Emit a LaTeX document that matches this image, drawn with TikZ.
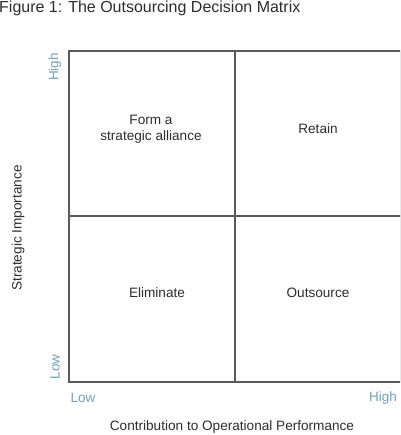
\documentclass[tikz,border=0pt]{standalone}
\usepackage{fontspec}
\setmainfont{Liberation Sans}
\definecolor{txt}{RGB}{45,45,45}
\definecolor{axis}{RGB}{115,160,190}
\definecolor{grid}{RGB}{90,90,90}
\begin{document}
\begin{tikzpicture}[x=1pt,y=-1pt,
  lbl/.style={text=txt,font=\fontsize{13.6}{16}\selectfont,align=center,inner sep=0pt},
  axl/.style={text=axis,font=\fontsize{13.5}{15}\selectfont,inner sep=0pt},
  gridline/.style={draw=grid,line width=1.4pt}]
\useasboundingbox (0,0) rectangle (400,435);
\begin{scope}
\clip (0,0) rectangle (400,435);
\node[anchor=base west,text=txt,font=\fontsize{16}{18}\selectfont,inner sep=0pt] (title) at (-1,13) {Figure 1: The Outsourcing Decision Matrix};
\draw[gridline] (69,51) rectangle (401,382);
\coordinate (vt) at (235,51);
\coordinate (vb) at (235,382);
\coordinate (hl) at (69,216);
\coordinate (hr) at (401,216);
\draw[gridline] (vt) -- (vb);
\draw[gridline] (hl) -- (hr);
\end{scope}
\node[lbl] (fa) at (151,129) {Form a\\strategic alliance};
\node[lbl] (re) at (318,129) {Retain};
\node[lbl] (el) at (157,293) {Eliminate};
\node[lbl] (ou) at (318,293) {Outsource};
\node[axl,rotate=90] (yh) at (55,67) {High};
\node[axl,rotate=90] (yl) at (55,367) {Low};
\node[axl] (xl) at (83,398) {Low};
\node[axl] (xh) at (383,398) {High};
\node[lbl] (xt) at (232,427) {Contribution to Operational Performance};
\node[lbl,rotate=90] (yt) at (18,228) {Strategic Importance};
\end{tikzpicture}
\end{document}
